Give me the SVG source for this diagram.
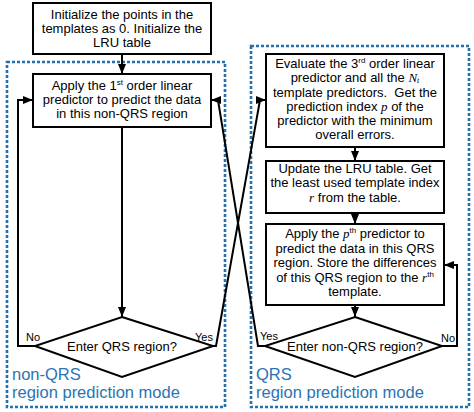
<svg xmlns="http://www.w3.org/2000/svg" width="474" height="412" viewBox="0 0 474 412">
<style>
.box{fill:#fff;stroke:#000;stroke-width:2}
.mode{fill:none;stroke:#2270b0;stroke-width:2.6;stroke-dasharray:3 2}
.t{font-family:"Liberation Sans",Arial,sans-serif;font-size:13px;fill:#000;text-anchor:middle}
.s{font-size:8px}
.m{font-family:"Liberation Serif","Times New Roman",serif;font-style:italic}
.lbl{font-family:"Liberation Sans",Arial,sans-serif;font-size:11px;fill:#000}
.ml{font-family:"Liberation Sans",Arial,sans-serif;font-size:16.5px;fill:#2a74b4}
.c{fill:none;stroke:#000;stroke-width:2}
</style>
<defs>
<marker id="ah" markerUnits="userSpaceOnUse" markerWidth="10" markerHeight="10" viewBox="0 0 10 10" refX="10" refY="5" orient="auto">
<path d="M0,1 L10,5 L0,9 Z" fill="#000"/>
</marker>
</defs>
<g id="modes">
<rect class="mode" x="7" y="62" width="218" height="345"/>
<rect class="mode" x="251" y="46" width="218" height="361"/>
<text class="ml" x="12" y="380">non-QRS</text>
<text class="ml" x="12" y="398">region prediction mode</text>
<text class="ml" x="256" y="380">QRS</text>
<text class="ml" x="256" y="398">region prediction mode</text>
</g>
<g id="connectors">
<line class="c" x1="122" y1="54" x2="122" y2="74" marker-end="url(#ah)"/>
<line class="c" x1="122" y1="127" x2="122" y2="317" marker-end="url(#ah)"/>
<line class="c" x1="355" y1="147" x2="355" y2="161" marker-end="url(#ah)"/>
<line class="c" x1="355" y1="213" x2="355" y2="224" marker-end="url(#ah)"/>
<line class="c" x1="355" y1="305" x2="355" y2="317" marker-end="url(#ah)"/>
<polyline class="c" points="35,346 18,346 18,100 33,100" marker-end="url(#ah)"/>
<polyline class="c" points="442,346 457,346 457,265 444,265" marker-end="url(#ah)"/>
<polyline class="c" points="213,346 216,346 260,100 266,100" marker-end="url(#ah)"/>
<polyline class="c" points="265,346 258,346 218,100 211,100" marker-end="url(#ah)"/>
<text class="lbl" x="26" y="341">No</text>
<text class="lbl" x="195" y="341">Yes</text>
<text class="lbl" x="260" y="340">Yes</text>
<text class="lbl" x="441" y="342">No</text>
</g>
<g id="init">
<rect class="box" x="33" y="3" width="178" height="51"/>
<text class="t" x="122" y="19">Initialize the points in the</text>
<text class="t" x="122" y="33">templates as 0. Initialize the</text>
<text class="t" x="122" y="47">LRU table</text>
</g>
<g id="linear1">
<rect class="box" x="33" y="74" width="178" height="53"/>
<text class="t" x="122" y="90">Apply the 1<tspan class="s" dy="-5">st</tspan><tspan dy="5"> order linear</tspan></text>
<text class="t" x="122" y="104">predictor to predict the data</text>
<text class="t" x="122" y="118">in this non-QRS region</text>
</g>
<g id="dec1">
<polygon class="box" points="122,317 213,346 122,377 35,346"/>
<text class="t" x="122" y="351">Enter QRS region?</text>
</g>
<g id="evaluate">
<rect class="box" x="266" y="54" width="178" height="93"/>
<text class="t" x="355" y="68">Evaluate the 3<tspan class="s" dy="-5">rd</tspan><tspan dy="5"> order linear</tspan></text>
<text class="t" x="355" y="82">predictor and all the <tspan class="m">N</tspan><tspan class="m s" dy="1">t</tspan></text>
<text class="t" x="355" y="97">template predictors.&#160; Get the</text>
<text class="t" x="355" y="111">prediction index <tspan class="m">p</tspan> of the</text>
<text class="t" x="355" y="125">predictor with the minimum</text>
<text class="t" x="355" y="139">overall errors.</text>
</g>
<g id="lru">
<rect class="box" x="266" y="161" width="178" height="52"/>
<text class="t" x="355" y="173">Update the LRU table. Get</text>
<text class="t" x="355" y="187">the least used template index</text>
<text class="t" x="355" y="202"><tspan class="m">r</tspan> from the table.</text>
</g>
<g id="applyp">
<rect class="box" x="266" y="224" width="178" height="81"/>
<text class="t" x="355" y="238">Apply the <tspan class="m">p</tspan><tspan class="s" dy="-5">th</tspan><tspan dy="5"> predictor to</tspan></text>
<text class="t" x="355" y="253">predict the data in this QRS</text>
<text class="t" x="355" y="267">region. Store the differences</text>
<text class="t" x="355" y="282">of this QRS region to the <tspan class="m">r</tspan><tspan class="s" dy="-5">th</tspan></text>
<text class="t" x="355" y="296">template.</text>
</g>
<g id="dec2">
<polygon class="box" points="355,317 442,346 355,377 265,346"/>
<text class="t" x="355" y="351">Enter non-QRS region?</text>
</g>
</svg>
